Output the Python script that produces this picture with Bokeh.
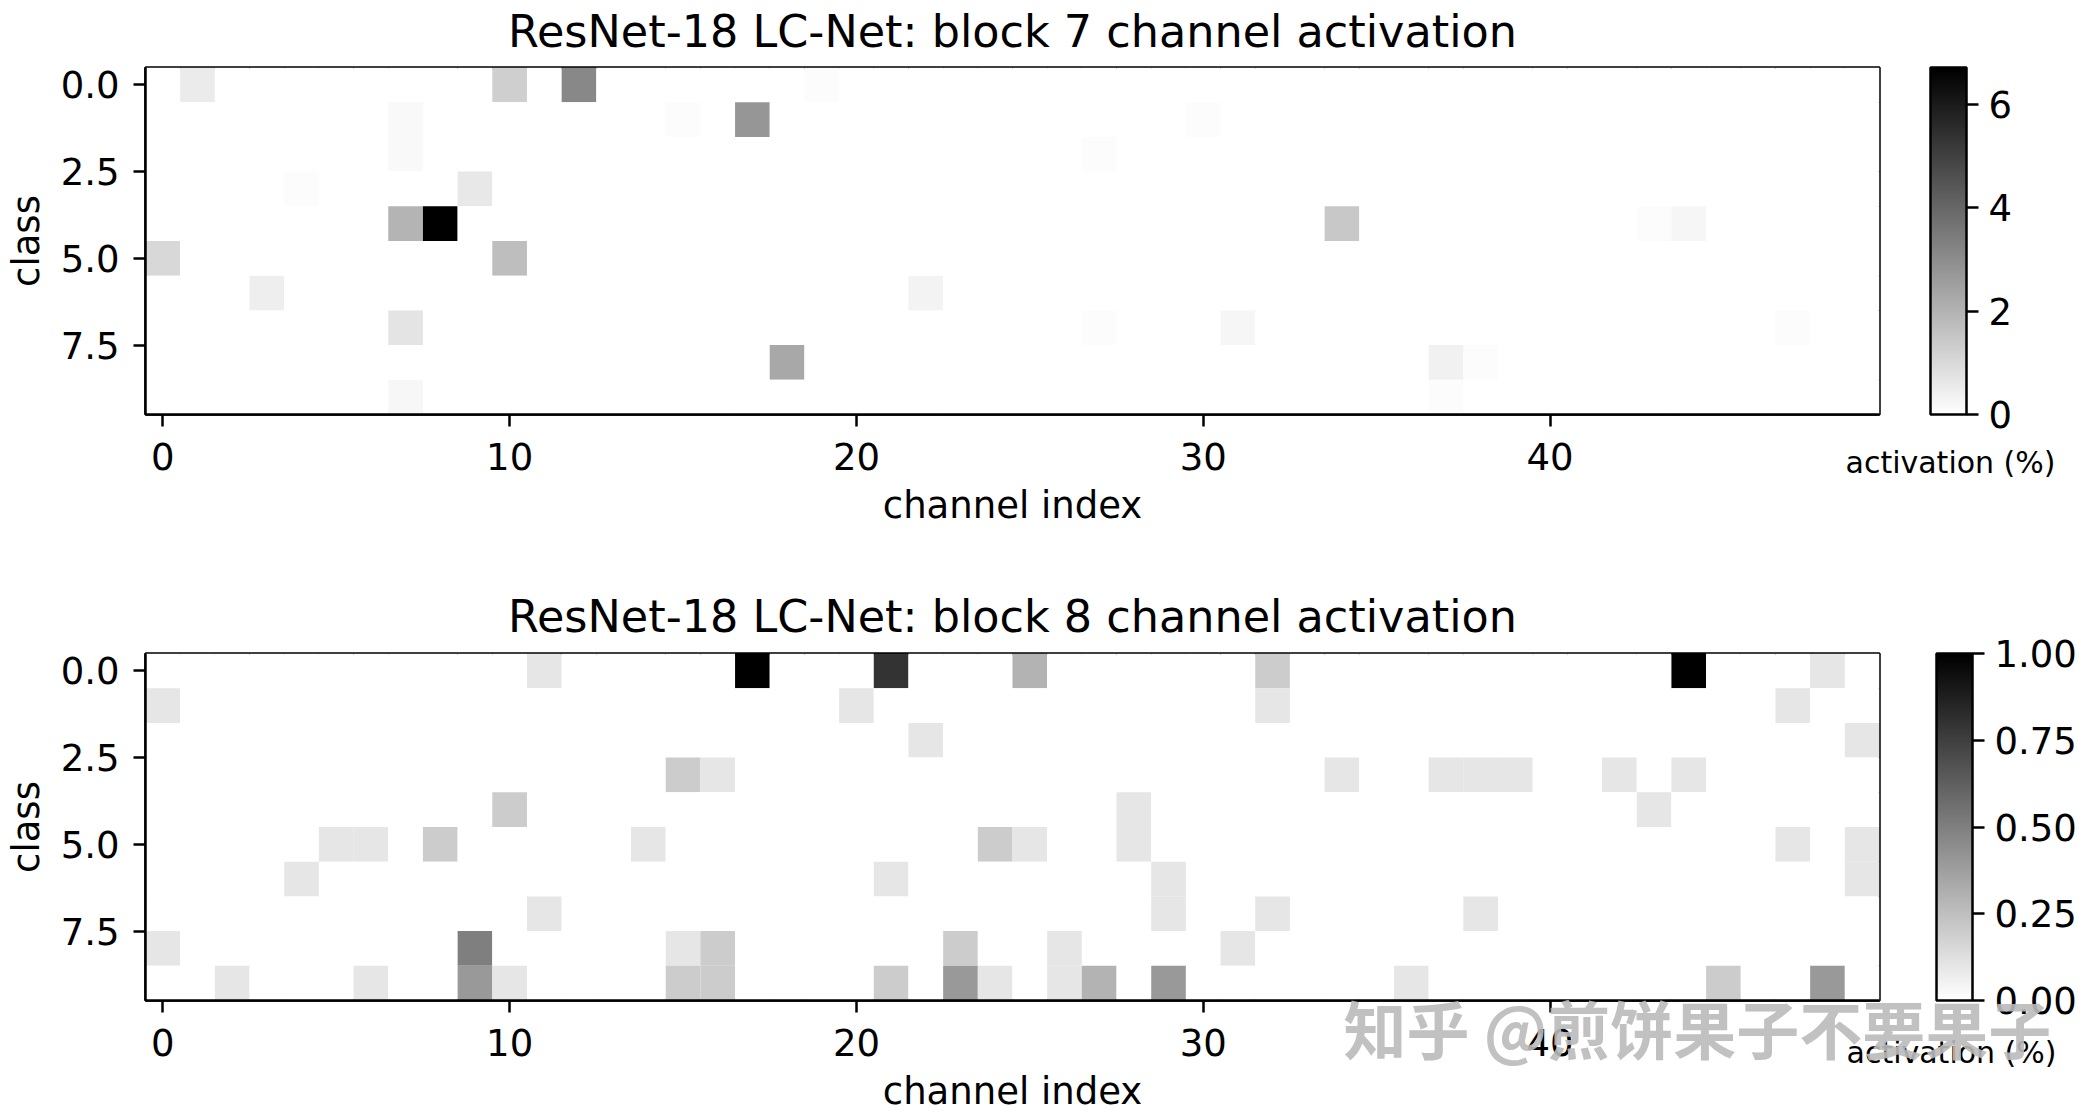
from bokeh.plotting import figure
from bokeh.models import (Range1d, FixedTicker, LinearColorMapper, ColorBar,
                          PrintfTickFormatter, ColumnDataSource)
from bokeh.layouts import column
from bokeh.palettes import gray
from bokeh.embed import file_html
from bokeh.resources import INLINE

# ---------------- data ----------------
channels = list(range(50))
classes = list(range(10))
x_ticks = [0, 10, 20, 30, 40]
y_ticks = [0.0, 2.5, 5.0, 7.5]

# block 7 activation (%) per class, channels 0..49
b7_class0 = [0, 0.53, 0, 0, 0, 0, 0, 0, 0, 0,
             1.26, 0, 3.14, 0, 0, 0, 0, 0, 0, 0.08,
             0, 0, 0, 0, 0, 0, 0, 0, 0, 0,
             0, 0, 0, 0, 0, 0, 0, 0, 0, 0,
             0, 0, 0, 0, 0, 0, 0, 0, 0, 0]
b7_class1 = [0, 0, 0, 0, 0, 0, 0, 0.18, 0, 0,
             0, 0, 0, 0, 0, 0.08, 0, 2.77, 0, 0,
             0, 0, 0, 0, 0, 0, 0, 0, 0, 0,
             0.08, 0, 0, 0, 0, 0, 0, 0, 0, 0,
             0, 0, 0, 0, 0, 0, 0, 0, 0, 0]
b7_class2 = [0, 0, 0, 0, 0, 0, 0, 0.18, 0, 0,
             0, 0, 0, 0, 0, 0, 0, 0, 0, 0,
             0, 0, 0, 0, 0, 0, 0, 0.10, 0, 0,
             0, 0, 0, 0, 0, 0, 0, 0, 0, 0,
             0, 0, 0, 0, 0, 0, 0, 0, 0, 0]
b7_class3 = [0, 0, 0, 0, 0.08, 0, 0, 0, 0, 0.61,
             0, 0, 0, 0, 0, 0, 0, 0, 0, 0,
             0, 0, 0, 0, 0, 0, 0, 0, 0, 0,
             0, 0, 0, 0, 0, 0, 0, 0, 0, 0,
             0, 0, 0, 0, 0, 0, 0, 0, 0, 0]
b7_class4 = [0, 0, 0, 0, 0, 0, 0, 1.98, 6.72, 0,
             0, 0, 0, 0, 0, 0, 0, 0, 0, 0,
             0, 0, 0, 0, 0, 0, 0, 0, 0, 0,
             0, 0, 0, 0, 1.45, 0, 0, 0, 0, 0,
             0, 0, 0, 0.08, 0.26, 0, 0, 0, 0, 0]
b7_class5 = [1.03, 0, 0, 0, 0, 0, 0, 0, 0, 0,
             1.71, 0, 0, 0, 0, 0, 0, 0, 0, 0,
             0, 0, 0, 0, 0, 0, 0, 0, 0, 0,
             0, 0, 0, 0, 0, 0, 0, 0, 0, 0,
             0, 0, 0, 0, 0, 0, 0, 0, 0, 0]
b7_class6 = [0, 0, 0, 0.45, 0, 0, 0, 0, 0, 0,
             0, 0, 0, 0, 0, 0, 0, 0, 0, 0,
             0, 0, 0.34, 0, 0, 0, 0, 0, 0, 0,
             0, 0, 0, 0, 0, 0, 0, 0, 0, 0,
             0, 0, 0, 0, 0, 0, 0, 0, 0, 0]
b7_class7 = [0, 0, 0, 0, 0, 0, 0, 0.71, 0, 0,
             0, 0, 0, 0, 0, 0, 0, 0, 0, 0,
             0, 0, 0, 0, 0, 0, 0, 0.08, 0, 0,
             0, 0.24, 0, 0, 0, 0, 0, 0, 0, 0,
             0, 0, 0, 0, 0, 0, 0, 0.10, 0, 0]
b7_class8 = [0, 0, 0, 0, 0, 0, 0, 0, 0, 0,
             0, 0, 0, 0, 0, 0, 0, 0, 2.29, 0,
             0, 0, 0, 0, 0, 0, 0, 0, 0, 0,
             0, 0, 0, 0, 0, 0, 0, 0.37, 0.10, 0,
             0, 0, 0, 0, 0, 0, 0, 0, 0, 0]
b7_class9 = [0, 0, 0, 0, 0, 0, 0, 0.21, 0, 0,
             0, 0, 0, 0, 0, 0, 0, 0, 0, 0,
             0, 0, 0, 0, 0, 0, 0, 0, 0, 0,
             0, 0, 0, 0, 0, 0, 0, 0.10, 0, 0,
             0, 0, 0, 0, 0, 0, 0, 0, 0, 0]

# block 8 activation per class, channels 0..49
b8_class0 = [0, 0, 0, 0, 0, 0, 0, 0, 0, 0,
             0, 0.1, 0, 0, 0, 0, 0, 1.0, 0, 0,
             0, 0.8, 0, 0, 0, 0.3, 0, 0, 0, 0,
             0, 0, 0.2, 0, 0, 0, 0, 0, 0, 0,
             0, 0, 0, 0, 1.0, 0, 0, 0, 0.1, 0]
b8_class1 = [0.1, 0, 0, 0, 0, 0, 0, 0, 0, 0,
             0, 0, 0, 0, 0, 0, 0, 0, 0, 0,
             0.1, 0, 0, 0, 0, 0, 0, 0, 0, 0,
             0, 0, 0.1, 0, 0, 0, 0, 0, 0, 0,
             0, 0, 0, 0, 0, 0, 0, 0.1, 0, 0]
b8_class2 = [0, 0, 0, 0, 0, 0, 0, 0, 0, 0,
             0, 0, 0, 0, 0, 0, 0, 0, 0, 0,
             0, 0, 0.1, 0, 0, 0, 0, 0, 0, 0,
             0, 0, 0, 0, 0, 0, 0, 0, 0, 0,
             0, 0, 0, 0, 0, 0, 0, 0, 0, 0.1]
b8_class3 = [0, 0, 0, 0, 0, 0, 0, 0, 0, 0,
             0, 0, 0, 0, 0, 0.2, 0.1, 0, 0, 0,
             0, 0, 0, 0, 0, 0, 0, 0, 0, 0,
             0, 0, 0, 0, 0.1, 0, 0, 0.1, 0.1, 0.1,
             0, 0, 0.1, 0, 0.1, 0, 0, 0, 0, 0]
b8_class4 = [0, 0, 0, 0, 0, 0, 0, 0, 0, 0,
             0.2, 0, 0, 0, 0, 0, 0, 0, 0, 0,
             0, 0, 0, 0, 0, 0, 0, 0, 0.1, 0,
             0, 0, 0, 0, 0, 0, 0, 0, 0, 0,
             0, 0, 0, 0.1, 0, 0, 0, 0, 0, 0]
b8_class5 = [0, 0, 0, 0, 0, 0.1, 0.1, 0, 0.2, 0,
             0, 0, 0, 0, 0.1, 0, 0, 0, 0, 0,
             0, 0, 0, 0, 0.2, 0.1, 0, 0, 0.1, 0,
             0, 0, 0, 0, 0, 0, 0, 0, 0, 0,
             0, 0, 0, 0, 0, 0, 0, 0.1, 0, 0.1]
b8_class6 = [0, 0, 0, 0, 0.1, 0, 0, 0, 0, 0,
             0, 0, 0, 0, 0, 0, 0, 0, 0, 0,
             0, 0.1, 0, 0, 0, 0, 0, 0, 0, 0.1,
             0, 0, 0, 0, 0, 0, 0, 0, 0, 0,
             0, 0, 0, 0, 0, 0, 0, 0, 0, 0.1]
b8_class7 = [0, 0, 0, 0, 0, 0, 0, 0, 0, 0,
             0, 0.1, 0, 0, 0, 0, 0, 0, 0, 0,
             0, 0, 0, 0, 0, 0, 0, 0, 0, 0.1,
             0, 0, 0.1, 0, 0, 0, 0, 0, 0.1, 0,
             0, 0, 0, 0, 0, 0, 0, 0, 0, 0]
b8_class8 = [0.1, 0, 0, 0, 0, 0, 0, 0, 0, 0.5,
             0, 0, 0, 0, 0, 0.1, 0.2, 0, 0, 0,
             0, 0, 0, 0.2, 0, 0, 0.1, 0, 0, 0,
             0, 0.1, 0, 0, 0, 0, 0, 0, 0, 0,
             0, 0, 0, 0, 0, 0, 0, 0, 0, 0]
b8_class9 = [0, 0, 0.1, 0, 0, 0, 0.1, 0, 0, 0.4,
             0.1, 0, 0, 0, 0, 0.2, 0.2, 0, 0, 0,
             0, 0.2, 0, 0.4, 0.1, 0, 0.1, 0.3, 0, 0.4,
             0, 0, 0, 0, 0, 0, 0.1, 0, 0, 0,
             0, 0, 0, 0, 0, 0.2, 0, 0, 0.4, 0]

block7_rows = [b7_class0, b7_class1, b7_class2, b7_class3, b7_class4,
               b7_class5, b7_class6, b7_class7, b7_class8, b7_class9]
block8_rows = [b8_class0, b8_class1, b8_class2, b8_class3, b8_class4,
               b8_class5, b8_class6, b8_class7, b8_class8, b8_class9]

block7_max = 6.72
block8_max = 1.00
block7_cbar_ticks = [0, 2, 4, 6]
block8_cbar_ticks = [0.0, 0.25, 0.5, 0.75, 1.0]

# ---------------- styling ----------------
FONT = "DejaVu Sans"
palette = list(reversed(gray(256)))  # linear: white -> black


def free_text(text, x, y, size, font="DejaVu Sans", color="black", alpha=1.0, style="normal"):
    """Text placed outside the frame: a bar-less horizontal ColorBar that only shows its title."""
    return ColorBar(color_mapper=LinearColorMapper(palette=["#ffffff"], low=0, high=1),
                    orientation="horizontal",
                    ticker=FixedTicker(ticks=[]), title=text,
                    title_text_font=font, title_text_font_size=size,
                    title_text_font_style=style, title_text_color=color,
                    title_text_alpha=alpha, title_standoff=0,
                    location=(x, y), width=1, height=1, padding=0, margin=0,
                    scale_alpha=0, bar_line_color=None,
                    major_tick_line_color=None, minor_tick_line_color=None,
                    major_label_text_alpha=0,
                    background_fill_color=None, border_line_color=None)


def heatmap(title, rows, vmax, cbar_ticks, cbar_fmt, cbar_x, label_x, label_y,
            border_bottom, title_standoff, watermark=False):
    xs, ys, vs = [], [], []
    for ci, row in zip(classes, rows):
        for ch, v in zip(channels, row):
            xs.append(ch)
            ys.append(ci)
            vs.append(v)
    src = ColumnDataSource(dict(x=xs, y=ys, v=vs))
    mapper = LinearColorMapper(palette=palette, low=0, high=vmax)

    p = figure(frame_width=1734, frame_height=347,
               x_range=Range1d(-0.5, 49.5), y_range=Range1d(9.5, -0.5),
               output_backend="svg", toolbar_location=None,
               min_border_left=145, min_border_right=213,
               min_border_top=59, min_border_bottom=border_bottom,
               title=title)
    p.rect(x="x", y="y", width=1, height=1, source=src,
           fill_color={"field": "v", "transform": mapper}, line_color=None)

    p.title.text_font = FONT
    p.title.text_font_size = "44.5px"
    p.title.text_font_style = "normal"
    p.title.text_color = "black"
    p.title.align = "center"
    p.title.standoff = title_standoff

    p.grid.visible = False
    p.outline_line_color = "black"
    p.outline_line_width = 2.5
    p.outline_line_alpha = 1.0

    for ax in (p.xaxis[0], p.yaxis[0]):
        ax.major_label_text_font = FONT
        ax.major_label_text_font_size = "37px"
        ax.major_label_text_color = "black"
        ax.axis_label_text_font = FONT
        ax.axis_label_text_font_size = "37px"
        ax.axis_label_text_font_style = "normal"
        ax.axis_label_text_color = "black"
        ax.major_tick_out = 12
        ax.major_tick_in = 0
        ax.minor_tick_out = 0
        ax.minor_tick_in = 0
        ax.major_tick_line_width = 2.5
        ax.axis_line_width = 2.5
    p.xaxis.major_label_standoff = 16
    p.xaxis.axis_label_standoff = 11
    p.yaxis.major_label_standoff = 14
    p.yaxis.axis_label_standoff = 10
    p.xaxis.ticker = FixedTicker(ticks=x_ticks)
    p.yaxis.ticker = FixedTicker(ticks=y_ticks)
    p.yaxis.formatter = PrintfTickFormatter(format="%.1f")
    p.xaxis.axis_label = "channel index"
    p.yaxis.axis_label = "class"

    cb = ColorBar(color_mapper=mapper, ticker=FixedTicker(ticks=cbar_ticks),
                  formatter=PrintfTickFormatter(format=cbar_fmt),
                  location=(cbar_x, 0), width=36, height=347, padding=0, margin=0,
                  major_tick_out=12, major_tick_in=0,
                  major_tick_line_color="black", major_tick_line_width=2.5,
                  bar_line_color="black", bar_line_width=2.5, label_standoff=10,
                  major_label_text_font=FONT, major_label_text_font_size="37px",
                  major_label_text_color="black",
                  background_fill_color=None, border_line_color=None)
    p.add_layout(cb)

    p.add_layout(free_text("activation (%)", label_x, label_y, "30px"))
    if watermark:
        p.add_layout(free_text("知乎 @煎饼果子不要果子", 1198, -72, "63px",
                               font="Noto Sans CJK SC", color="#bababa",
                               alpha=0.9, style="bold"))
    return p


p1 = heatmap("ResNet-18 LC-Net: block 7 channel activation", block7_rows, block7_max,
             block7_cbar_ticks, "%d", 1785, 1700, -66, 163, 21)
p2 = heatmap("ResNet-18 LC-Net: block 8 channel activation", block8_rows, block8_max,
             block8_cbar_ticks, "%.2f", 1791, 1701, -70, 100, 23, watermark=True)

layout = column(p1, p2, spacing=0, margin=(-7, 0, 0, 0))
open("out.html", "w").write(file_html(layout, INLINE))
